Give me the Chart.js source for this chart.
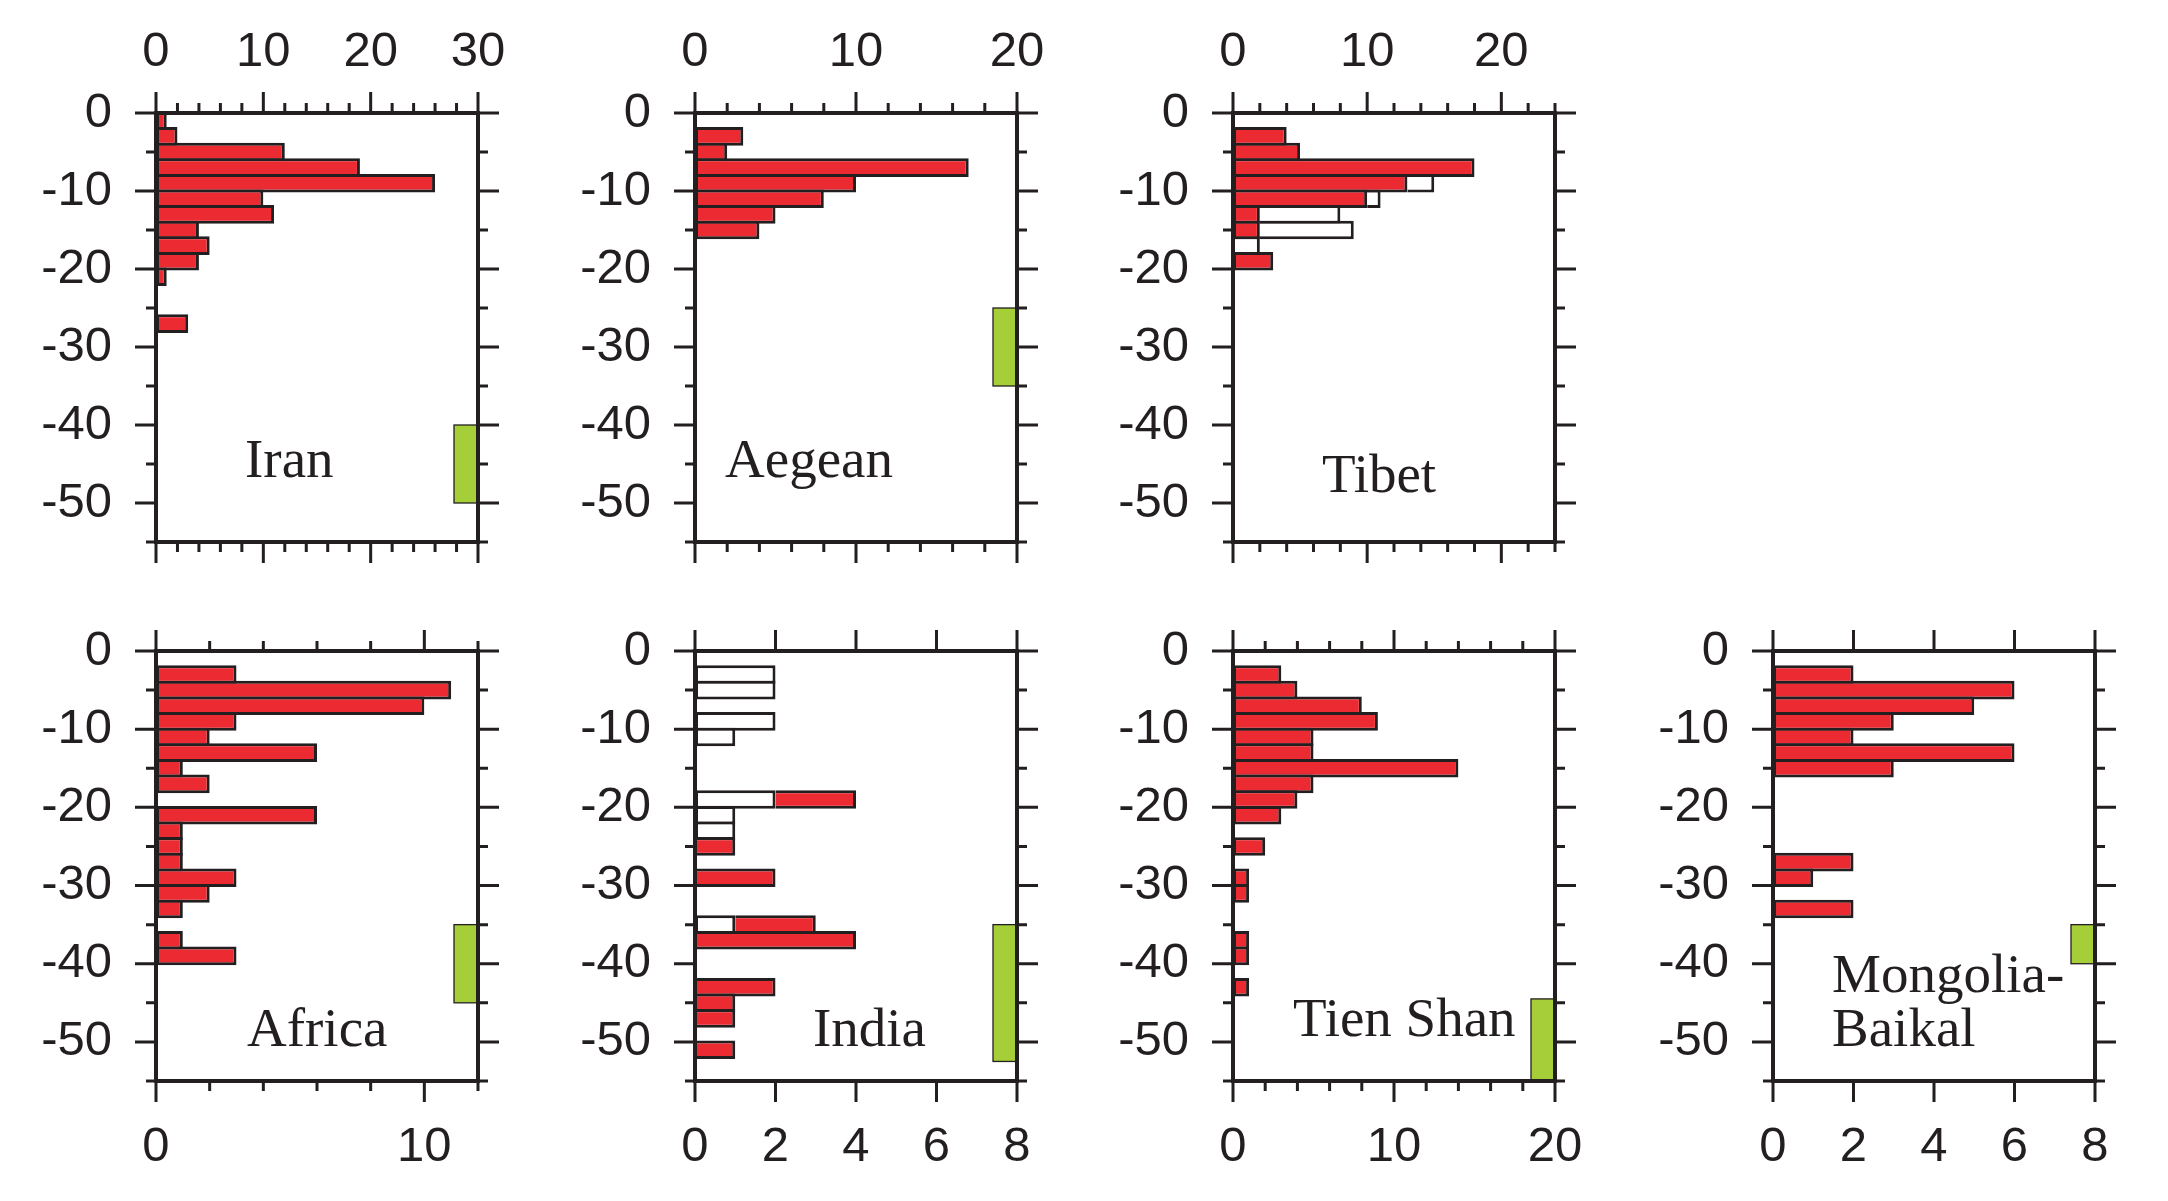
<!DOCTYPE html>
<html>
<head>
<meta charset="utf-8">
<title>Depth histograms</title>
<script src="https://cdn.jsdelivr.net/npm/chart.js@4.4.1/dist/chart.umd.min.js"></script>
<style>
  html, body { margin: 0; padding: 0; background: #fff; }
  #sheet { position: relative; width: 2168px; height: 1201px; background: #fff; overflow: hidden; }
  #sheet canvas { position: absolute; }
</style>
</head>
<body>
<div id="sheet"></div>
<script>
// depth bins are 2 km wide, centres listed from the surface down (km)
const binCentres = [-1, -3, -5, -7, -9, -11, -13, -15, -17, -19, -21, -23, -25, -27,
                    -29, -31, -33, -35, -37, -39, -41, -43, -45, -47, -49, -51, -53];
const depthTicks = [0, -10, -20, -30, -40, -50];

// number of events per bin (red), open bars in white
const iranCounts     = [1, 2, 12, 19, 26, 10, 11, 4, 5, 4, 1, 0, 0, 3];
const aegeanCounts   = [0, 3, 2, 17, 10, 8, 5, 4];
const tibetCounts    = [0, 4, 5, 18, 13, 10, 2, 2, 0, 3];
const tibetOpen      = [0, 0, 0, 0, 2, 1, 6, 7, 2, 0];
const africaCounts   = [0, 3, 11, 10, 3, 2, 6, 1, 2, 0, 6, 1, 1, 1, 3, 2, 1, 0, 1, 3];
const indiaOpen      = [0, 2, 2, 0, 2, 1, 0, 0, 0, 2, 1, 1, 0, 0, 0, 0, 0, 1];
const indiaCounts    = [0, 0, 0, 0, 0, 0, 0, 0, 0, 2, 0, 0, 1, 0, 2, 0, 0, 2, 4, 0, 0, 2, 1, 1, 0, 1];
const tienShanCounts = [0, 3, 4, 8, 9, 5, 5, 14, 5, 4, 3, 0, 2, 0, 1, 1, 0, 0, 1, 1, 0, 1];
const mongoliaCounts = [0, 2, 6, 5, 3, 2, 6, 3, 0, 0, 0, 0, 0, 2, 1, 0, 2];

// green depth ranges (km)
const iranBand     = [-40, -50];
const aegeanBand   = [-25, -35];
const africaBand   = [-35, -45];
const indiaBand    = [-35, -52.5];
const tienShanBand = [-44.5, -55];
const mongoliaBand = [-35, -40];

// count axis tick labels
const iranTicks     = [0, 10, 20, 30];
const aegeanTicks   = [0, 10, 20];
const tibetTicks    = [0, 10, 20];
const africaTicks   = [0, 10];
const indiaTicks    = [0, 2, 4, 6, 8];
const tienShanTicks = [0, 10, 20];
const mongoliaTicks = [0, 2, 4, 6, 8];

const RED = '#ec2a32';
const GREEN = '#a6ce39';
const INK = '#231f20';
const MAJOR = 21, MINOR = 10;

Chart.defaults.font.family = "'Liberation Sans', Arial, sans-serif";
Chart.defaults.color = INK;

const panels = [
  { name: ['Iran'], red: iranCounts, open: null, band: iranBand, xMax: 30, xLabels: iranTicks,
    left: 156, top: 113, h: 429, row: 'top', nameAt: [89, 364] },
  { name: ['Aegean'], red: aegeanCounts, open: null, band: aegeanBand, xMax: 20, xLabels: aegeanTicks,
    left: 695, top: 113, h: 429, row: 'top', nameAt: [30, 364] },
  { name: ['Tibet'], red: tibetCounts, open: tibetOpen, openFirst: false, band: null, xMax: 24, xLabels: tibetTicks,
    left: 1233, top: 113, h: 429, row: 'top', nameAt: [89, 379] },
  { name: ['Africa'], red: africaCounts, open: null, band: africaBand, xMax: 12, xLabels: africaTicks,
    left: 156, top: 651, h: 430, row: 'bottom', nameAt: [91, 395] },
  { name: ['India'], red: indiaCounts, open: indiaOpen, openFirst: true, band: indiaBand, xMax: 8, xLabels: indiaTicks,
    left: 695, top: 651, h: 430, row: 'bottom', nameAt: [118, 395] },
  { name: ['Tien Shan'], red: tienShanCounts, open: null, band: tienShanBand, xMax: 20, xLabels: tienShanTicks,
    left: 1233, top: 651, h: 430, row: 'bottom', nameAt: [60, 385] },
  { name: ['Mongolia-', 'Baikal'], red: mongoliaCounts, open: null, band: mongoliaBand, xMax: 8, xLabels: mongoliaTicks,
    left: 1773, top: 651, h: 430, row: 'bottom', nameAt: [59, 341] }
];

const PANEL_W = 322;
const LEFT_SPACE = 130, RIGHT_SPACE = 45, LABEL_SPACE = 105, TICK_SPACE = 30;

// frame, outward ticks, green band and the region name
const panelDecor = {
  id: 'panelDecor',
  beforeDatasetsDraw(chart, args, opts) {
    if (!opts.band) return;
    const {ctx, chartArea: a} = chart;
    const y = chart.scales.y;
    const top = y.getPixelForValue(opts.band[0]);
    const bot = y.getPixelForValue(opts.band[1]);
    const w = 24;
    ctx.save();
    ctx.fillStyle = GREEN;
    ctx.fillRect(a.right - w, top, w, bot - top);
    ctx.strokeStyle = INK;
    ctx.lineWidth = 1.3;
    ctx.strokeRect(a.right - w, top, w, bot - top);
    ctx.restore();
  },
  afterDraw(chart, args, opts) {
    const {ctx, chartArea: a} = chart;
    const x = chart.scales.x, y = chart.scales.y;
    ctx.save();
    ctx.strokeStyle = INK;
    ctx.lineWidth = 3;
    ctx.beginPath();
    for (let v = 0; v >= y.min - 1e-6; v -= 5) {
      const len = v % 10 === 0 ? MAJOR : MINOR;
      const p = y.getPixelForValue(v);
      ctx.moveTo(a.left, p); ctx.lineTo(a.left - len, p);
      ctx.moveTo(a.right, p); ctx.lineTo(a.right + len, p);
    }
    for (let v = 0; v <= x.max + 1e-6; v += 2) {
      const len = opts.xLabels.includes(v) ? MAJOR : MINOR;
      const p = x.getPixelForValue(v);
      ctx.moveTo(p, a.top); ctx.lineTo(p, a.top - len);
      ctx.moveTo(p, a.bottom); ctx.lineTo(p, a.bottom + len);
    }
    ctx.stroke();
    ctx.lineWidth = 4;
    ctx.strokeRect(a.left, a.top, a.right - a.left, a.bottom - a.top);

    ctx.fillStyle = INK;
    ctx.font = "55px 'Liberation Serif', 'Times New Roman', serif";
    ctx.textAlign = 'left';
    ctx.textBaseline = 'alphabetic';
    opts.name.forEach((line, i) => {
      ctx.fillText(line, a.left + opts.nameAt[0], a.top + opts.nameAt[1] + i * 54);
    });
    ctx.restore();
  }
};

function toPoints(counts) {
  return counts.map((c, i) => ({ x: c || null, y: binCentres[i] }));
}

const sheet = document.getElementById('sheet');

panels.forEach(function(p) {
  const canvas = document.createElement('canvas');
  const topSpace = p.row === 'top' ? LABEL_SPACE : TICK_SPACE;
  const botSpace = p.row === 'top' ? TICK_SPACE : LABEL_SPACE;
  canvas.width = LEFT_SPACE + PANEL_W + RIGHT_SPACE;
  canvas.height = topSpace + p.h + botSpace;
  canvas.style.left = (p.left - LEFT_SPACE) + 'px';
  canvas.style.top = (p.top - topSpace) + 'px';
  sheet.appendChild(canvas);

  const barStyle = {
    yAxisID: 'yb',
    xAxisID: 'x',
    stack: 'depth',
    borderColor: INK,
    borderWidth: 3,
    barPercentage: 1.19,
    categoryPercentage: 1
  };
  const redSet = Object.assign({ data: toPoints(p.red), backgroundColor: RED, borderSkipped: false }, barStyle);
  const datasets = [redSet];
  if (p.open) {
    const openSet = Object.assign({ data: toPoints(p.open), backgroundColor: '#ffffff' }, barStyle);
    if (p.openFirst) {
      openSet.borderSkipped = false;
      redSet.borderSkipped = 'start';
      datasets.unshift(openSet);
    } else {
      openSet.borderSkipped = 'start';
      datasets.push(openSet);
    }
  }

  const noPad = function(s) {
    s.paddingLeft = 0; s.paddingRight = 0; s.paddingTop = 0; s.paddingBottom = 0;
  };

  new Chart(canvas, {
    type: 'bar',
    data: { datasets: datasets },
    options: {
      indexAxis: 'y',
      responsive: false,
      devicePixelRatio: 1,
      animation: false,
      layout: {
        autoPadding: false,
        padding: { left: 0, right: RIGHT_SPACE, top: p.row === 'top' ? 0 : TICK_SPACE, bottom: p.row === 'top' ? TICK_SPACE : 0 }
      },
      scales: {
        x: {
          type: 'linear',
          position: p.row,
          min: 0,
          max: p.xMax,
          bounds: 'data',
          stacked: true,
          offset: false,
          grid: { display: false, drawTicks: false },
          border: { display: false },
          ticks: {
            font: { size: 49 },
            color: INK,
            padding: p.row === 'top' ? 31 : 37,
            maxRotation: 0,
            autoSkip: false,
            callback: v => String(v)
          },
          afterBuildTicks: axis => { axis.ticks = p.xLabels.map(v => ({ value: v })); },
          afterFit: s => { s.height = LABEL_SPACE; noPad(s); }
        },
        y: {
          type: 'linear',
          position: 'left',
          min: -55,
          max: 0,
          bounds: 'data',
          offset: false,
          grid: { display: false, drawTicks: false },
          border: { display: false },
          ticks: {
            font: { size: 49 },
            color: INK,
            padding: 44,
            autoSkip: false,
            callback: v => String(v)
          },
          afterBuildTicks: axis => { axis.ticks = depthTicks.map(v => ({ value: v })); },
          afterFit: s => { s.width = LEFT_SPACE; noPad(s); }
        },
        yb: {
          type: 'linear',
          axis: 'y',
          position: 'left',
          display: false,
          min: -55,
          max: 0,
          bounds: 'data',
          offset: false,
          stacked: true,
          grid: { offset: false },
          afterBuildTicks: axis => { axis.ticks = []; }
        }
      },
      plugins: {
        legend: { display: false },
        tooltip: { enabled: false },
        panelDecor: { band: p.band, xLabels: p.xLabels, name: p.name, nameAt: p.nameAt }
      }
    },
    plugins: [panelDecor]
  });
});
</script>
</body>
</html>
